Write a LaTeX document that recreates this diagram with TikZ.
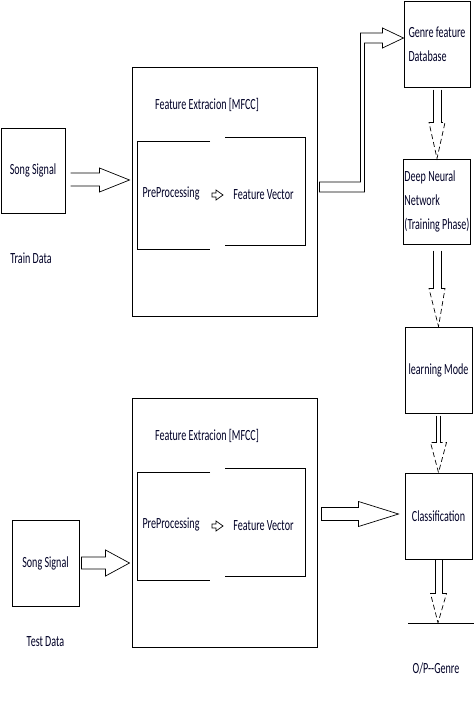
\documentclass[tikz,border=0pt]{standalone}
\usepackage{fontspec}
\setmainfont{Carlito}[FakeStretch=0.65]
\usetikzlibrary{calc}

\begin{document}
\begin{tikzpicture}[x=1pt, y=-1pt,
    every node/.style={font=\fontsize{15.5}{24}\selectfont, text=black!85!blue},
    blk/.style={draw, line width=1pt, inner sep=1pt},
    flow/.style={line width=0.7pt},
    headdash/.style={dash pattern=on 5pt off 3pt}
    ]
    \useasboundingbox (0,0) rectangle (474,710);

    % --- 入力信号 (学習側・テスト側) ---
    \node[blk, minimum width=64, minimum height=85] (ss1) at (33,170.5) {Song Signal};
    \node (td1) at (31,258) {Train Data};
    \node[blk, minimum width=67, minimum height=86] (ss2) at (45.5,563) {Song Signal};
    \node (td2) at (45.5,642) {Test Data};

    % --- 特徴抽出ブロック (上下で同じ形) ---
    \foreach \dy/\n in {0/1, 331/2} {
        \node[blk, minimum width=185, minimum height=249] (fe\n) at (224.5,191.5+\dy) {};
        \node (ti\n) at (207,105+\dy) {Feature Extracion [MFCC]};
        % 内側の枠 (上下に切れ目がある)
        \draw[line width=1pt] (210,141+\dy) -- (137,141+\dy) -- (137,249+\dy) -- (210,249+\dy);
        \draw[line width=1pt] (225,137+\dy) -- (305,137+\dy) -- (305,245+\dy) -- (225,245+\dy);
        \node (pp\n) at (171,193+\dy) {PreProcessing};
        \node (fv\n) at (263.5,195+\dy) {Feature Vector};
        % 小さい白抜き矢印
        \draw[line width=0.7pt] ($(pp\n.east)+(9,0)$) -- ++(4,0) -- ++(0,-3) -- ++(7,5) -- ++(-7,5) -- ++(0,-3) -- ++(-4,0) -- cycle;
    }

    % --- 右側の列 ---
    \node[blk, minimum width=66, minimum height=86, align=left] (db) at (437,44) {Genre feature\\Database};
    \node[blk, minimum width=66, minimum height=85, align=left] (dnn) at (437,201.5) {Deep Neural\\Network\\(Training Phase)};
    \node[blk, minimum width=67, minimum height=86] (lm) at (438.5,370) {learning Mode};
    \node[blk, minimum width=67, minimum height=86] (cls) at (438.5,516) {Classification};
    \node[inner sep=0pt, minimum size=0pt] (op) at (438,623) {};
    \draw[line width=1pt] (408,623) -- (op) -- (474,623);
    \node (opg) at (436,668) {O/P-{}-Genre};

    % --- 白抜き矢印 (横向き) ---
    \draw[flow] ($(ss1.east)+(5,2.5)$) -- ++(29,0) -- ++(0,-5) -- ++(30,12) -- ++(-30,12) -- ++(0,-6) -- ++(-29,0);
    \draw[flow] ($(ss2.east)+(2,-6)$) -- ++(24,0) -- ++(0,-7) -- ++(24,13) -- ++(-24,13) -- ++(0,-7) -- ++(-24,0) -- cycle;
    \draw[flow] ($(fe2.east)+(4,-15)$) -- ++(37,0) -- ++(0,-6) -- ++(40,12.5) -- ++(-40,12.5) -- ++(0,-6) -- ++(-37,0) -- cycle;
    % 上の特徴抽出 → データベース (折れ曲がり)
    \draw[flow] ($(fe1.east)+(2,-9.5)$) -- ++(41,0) -- ++(0,-149) -- ++(22,0) -- ++(0,-5) -- ++(21,10) -- ++(-21,10) -- ++(0,-5) -- ++(-18,0) -- ++(0,149) -- ++(-45,0) -- cycle;

    % --- 白抜き矢印 (下向き, 先端は破線) ---
    \foreach \a/\b/\g/\l/\w in {db/dnn/2/33/4, dnn/lm/6/38/4, lm/cls/2/27/2, cls/op/0/34/3.5} {
        \draw[flow] ($(\a.south)+(-\w,\g)$) -- ++(0,\l) coordinate (hl);
        \draw[flow] ($(\a.south)+(\w,\g)$) -- ++(0,\l) coordinate (hr);
        \draw[flow, headdash] (hl) -- ++({\w-8},0) -- (\b.north) -- ($(hr)+({8-\w},0)$) -- (hr);
    }
\end{tikzpicture}
\end{document}
